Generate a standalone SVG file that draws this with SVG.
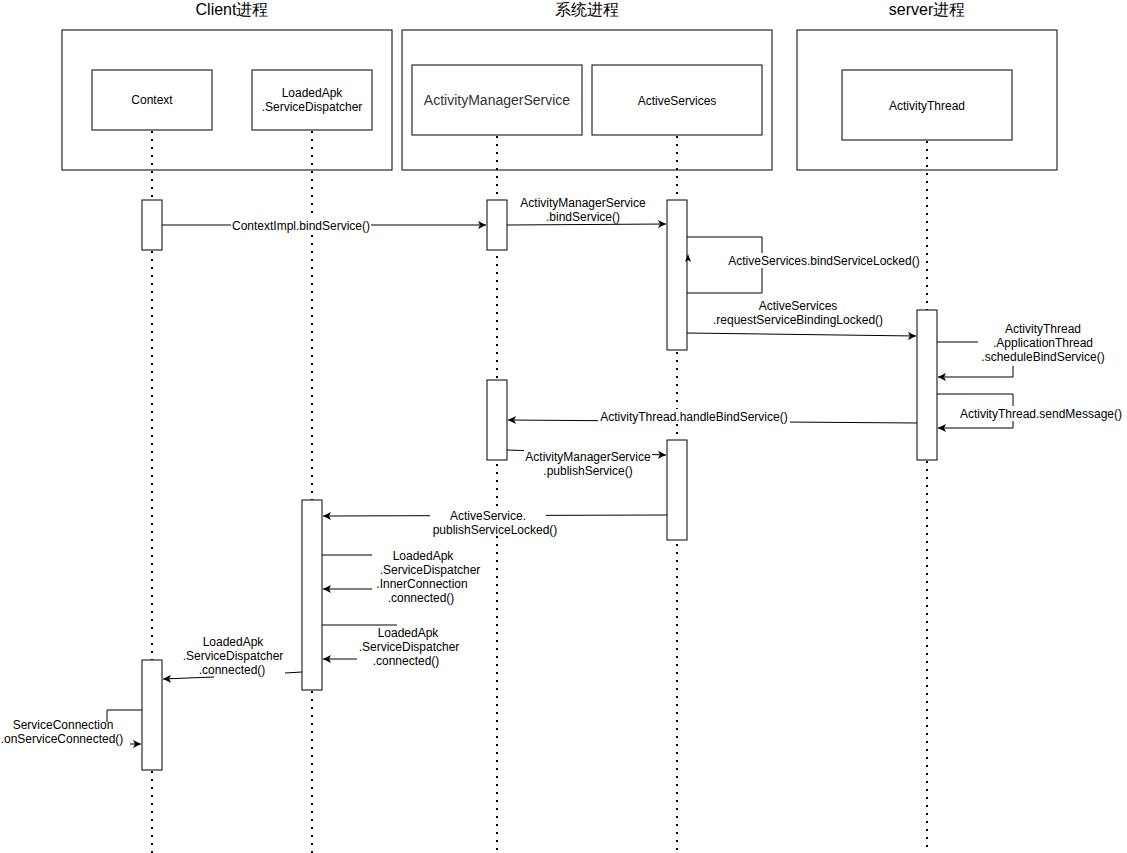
<svg xmlns="http://www.w3.org/2000/svg" width="1127" height="853" viewBox="0 0 1127 853">
<style>
text{font-family:"Liberation Sans",Arial,sans-serif;font-size:12px;text-anchor:middle;fill:#000}
.t{font-size:16px}
.box{fill:#fff;stroke:#000;stroke-width:1}
.life{stroke:#000;stroke-width:2;stroke-dasharray:2 6}
.m{fill:none;stroke:#000;stroke-width:1;marker-end:url(#a)}
.l{fill:none;stroke:#000;stroke-width:1}
.bg{fill:#fff}
</style>
<defs><marker id="a" markerWidth="10" markerHeight="10" refX="9" refY="5" orient="auto" markerUnits="userSpaceOnUse"><path d="M1,1 L9,5 L1,9 L3,5 Z" fill="#000"/></marker></defs>
<rect width="1127" height="853" fill="#fff"/>
<g id="containers">
<text class="t" x="232" y="15">Client进程</text>
<rect class="box" x="62" y="30" width="330" height="140"/>
<text class="t" x="587" y="15">系统进程</text>
<rect class="box" x="402" y="30" width="370" height="140"/>
<text class="t" x="927" y="15">server进程</text>
<rect class="box" x="797" y="30" width="260" height="140"/>
</g>
<g id="lifelines">
<line class="life" x1="152" y1="131" x2="152" y2="853"/>
<line class="life" x1="312" y1="131" x2="312" y2="853"/>
<line class="life" x1="497" y1="136" x2="497" y2="853"/>
<line class="life" x1="677" y1="136" x2="677" y2="853"/>
<line class="life" x1="927" y1="141" x2="927" y2="853"/>
</g>
<g id="n-context"><rect class="box" x="92" y="70" width="120" height="60"/><text x="152" y="104">Context</text></g>
<g id="n-loadedapk"><rect class="box" x="252" y="70" width="120" height="60"/><text x="312" y="97">LoadedApk</text><text x="312" y="111">.ServiceDispatcher</text></g>
<g id="n-ams"><rect class="box" x="412" y="65" width="170" height="70"/><text x="497" y="105" style="font-size:14px;fill:#333">ActivityManagerService</text></g>
<g id="n-as"><rect class="box" x="592" y="65" width="170" height="70"/><text x="677" y="105">ActiveServices</text></g>
<g id="n-at"><rect class="box" x="842" y="70" width="170" height="70"/><text x="927" y="110">ActivityThread</text></g>
<g id="activations">
<rect class="box" x="142" y="200" width="20" height="50"/>
<rect class="box" x="487" y="200" width="20" height="50"/>
<rect class="box" x="667" y="200" width="20" height="150"/>
<rect class="box" x="917" y="310" width="20" height="150"/>
<rect class="box" x="487" y="380" width="20" height="80"/>
<rect class="box" x="667" y="440" width="20" height="100"/>
<rect class="box" x="302" y="500" width="20" height="190"/>
<rect class="box" x="142" y="660" width="20" height="110"/>
</g>
<g id="connectors">
<line class="m" x1="162" y1="225" x2="486" y2="225"/>
<rect class="bg" x="231" y="218" width="140" height="15"/><text x="301" y="230">ContextImpl.bindService()</text>
<line class="m" x1="507" y1="225" x2="666" y2="224"/>
<text x="583" y="207">ActivityManagerService</text><text x="583" y="221">.bindService()</text>
<path class="l" d="M687,237 H762 V293 H687"/>
<path d="M688,254 L691,262 L688,260 L685,262 Z" fill="#000"/>
<rect class="bg" x="728" y="253" width="192" height="15"/><text x="824" y="265">ActiveServices.bindServiceLocked()</text>
<line class="m" x1="687" y1="333" x2="916" y2="336"/>
<text x="798" y="310">ActiveServices</text><text x="798" y="324">.requestServiceBindingLocked()</text>
<path class="m" d="M937,342 H1013 V377 H938"/>
<rect class="bg" x="978" y="322" width="126" height="44"/>
<text x="1043" y="333">ActivityThread</text><text x="1043" y="347">.ApplicationThread</text><text x="1043" y="361">.scheduleBindService()</text>
<path class="m" d="M937,394 H1013 V428 H938"/>
<rect class="bg" x="958" y="406" width="166" height="15"/><text x="1041" y="418">ActivityThread.sendMessage()</text>
<line class="m" x1="917" y1="423" x2="508" y2="420"/>
<rect class="bg" x="598" y="409" width="192" height="15"/><text x="694" y="421">ActivityThread.handleBindService()</text>
<line class="m" x1="507" y1="450" x2="666" y2="455"/>
<rect class="bg" x="524" y="449" width="128" height="28"/>
<text x="588" y="461">ActivityManagerService</text><text x="588" y="475">.publishService()</text>
<line class="m" x1="667" y1="515" x2="323" y2="516"/>
<rect class="bg" x="430" y="508" width="116" height="28"/>
<text x="488" y="520">ActiveService.</text><text x="495" y="534">publishServiceLocked()</text>
<path class="l" d="M322,555 H372"/>
<line class="m" x1="372" y1="589" x2="323" y2="589"/>
<text x="423" y="560">LoadedApk</text><text x="430" y="574">.ServiceDispatcher</text><text x="422" y="588">.InnerConnection</text><text x="421" y="602">.connected()</text>
<path class="l" d="M322,625 H397"/>
<line class="m" x1="357" y1="659" x2="323" y2="659"/>
<text x="408" y="637">LoadedApk</text><text x="409" y="651">.ServiceDispatcher</text><text x="406" y="665">.connected()</text>
<line class="l" x1="302" y1="672" x2="285" y2="673"/>
<line class="m" x1="214" y1="677" x2="163" y2="679"/>
<text x="233" y="646">LoadedApk</text><text x="233" y="660">.ServiceDispatcher</text><text x="232" y="674">.connected()</text>
<path class="l" d="M142,710 H107 V722"/>
<line class="m" x1="130" y1="744" x2="141" y2="744"/>
<text x="63" y="729">ServiceConnection</text><text x="62" y="743">.onServiceConnected()</text>
</g>
</svg>
